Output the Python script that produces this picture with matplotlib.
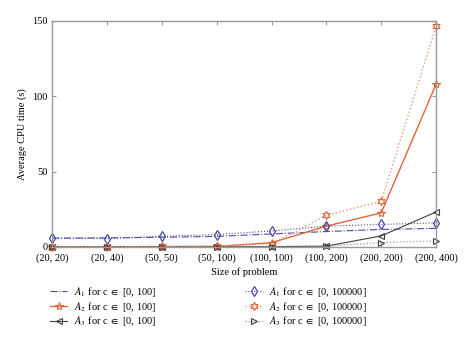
import matplotlib
matplotlib.use('Agg')
import matplotlib.pyplot as plt

plt.rcParams['font.family'] = ['Liberation Serif', 'DejaVu Serif']
plt.rcParams['mathtext.fontset'] = 'stix'

sizes = ['(20, 20)', '(20, 40)', '(50, 50)', '(50, 100)',
         '(100, 100)', '(100, 200)', '(200, 200)', '(200, 400)']

# c in [0, 100]
a1_small = [5.8, 6.0, 6.4, 7.0, 8.6, 10.2, 11.6, 12.3]
a2_small = [0.1, 0.1, 0.2, 0.3, 2.8, 13.8, 22.6, 108.0]
a3_small = [0.0, 0.0, 0.0, 0.1, 0.2, 0.5, 7.3, 23.2]

# c in [0, 100000]
a1_large = [6.0, 5.5, 7.1, 8.2, 10.6, 13.8, 14.9, 16.0]
a2_large = [0.2, 0.2, 0.4, 0.6, 2.0, 21.0, 30.2, 146.5]
a3_large = [0.0, 0.0, 0.0, 0.1, 0.2, 0.5, 2.9, 4.0]

blue = '#4a4aa8'
orange = '#e0643a'
orange_light = '#e89a78'
dark = '#404040'
grey = '#9a9a9a'

x = list(range(len(sizes)))

fig = plt.figure(figsize=(4.74, 3.42), dpi=100)
ax = fig.add_axes([0.110, 0.278, 0.810, 0.661])

ax.plot(x, a1_small, color=blue, linestyle='-.', linewidth=0.8,
        label=r'$A_1$ for c $\in$ [0, 100]', clip_on=False)
ax.plot(x, a2_small, color=orange, linestyle='-', linewidth=1.0, marker='*',
        markersize=6, markerfacecolor='none', markeredgecolor=orange,
        markeredgewidth=0.8, label=r'$A_2$ for c $\in$ [0, 100]', clip_on=False)
ax.plot(x, a3_small, color=dark, linestyle='-', linewidth=0.8, marker='<',
        markersize=5, markerfacecolor='none', markeredgewidth=0.8,
        label=r'$A_3$ for c $\in$ [0, 100]', clip_on=False)
ax.plot(x, a1_large, color=blue, linestyle=':', linewidth=0.8, marker='d',
        markersize=5.5, markerfacecolor='none', markeredgewidth=0.9,
        label=r'$A_1$ for c $\in$ [0, 100000]', clip_on=False)
ax.plot(x, a2_large, color=orange_light, linestyle=':', linewidth=1.0,
        marker=(6, 1, 0), markersize=6, markerfacecolor='none',
        markeredgecolor=orange, markeredgewidth=0.8,
        label=r'$A_2$ for c $\in$ [0, 100000]', clip_on=False)
ax.plot(x, a3_large, color=grey, linestyle=':', linewidth=0.9, marker='>',
        markersize=5, markerfacecolor='none', markeredgecolor=dark,
        markeredgewidth=0.8, label=r'$A_3$ for c $\in$ [0, 100000]', clip_on=False)

ax.set_xlim(0, len(sizes) - 1)
ax.set_ylim(0, 150)
ax.set_xticks(x)
ax.set_xticklabels(sizes)
ax.set_yticks([0, 50, 100, 150])
ax.tick_params(direction='in', top=True, right=True, labelsize=7.5,
               color=grey, length=3, pad=3)
ax.tick_params(axis='x', pad=5)
for s in ax.spines.values():
    s.set_color(grey)
    s.set_linewidth(1.0)

ax.set_xlabel('Size of problem', fontsize=7.5, labelpad=3)
ax.set_ylabel('Average CPU time (s)', fontsize=7.5, labelpad=4)

handles, labels = ax.get_legend_handles_labels()
fig.legend(handles, labels, loc='upper left', bbox_to_anchor=(0.085, 0.195),
           ncol=2, frameon=False, fontsize=7.5, handlelength=1.7,
           columnspacing=8.6, labelspacing=0.08, handletextpad=0.6)

fig.savefig('out.png', dpi=100)
